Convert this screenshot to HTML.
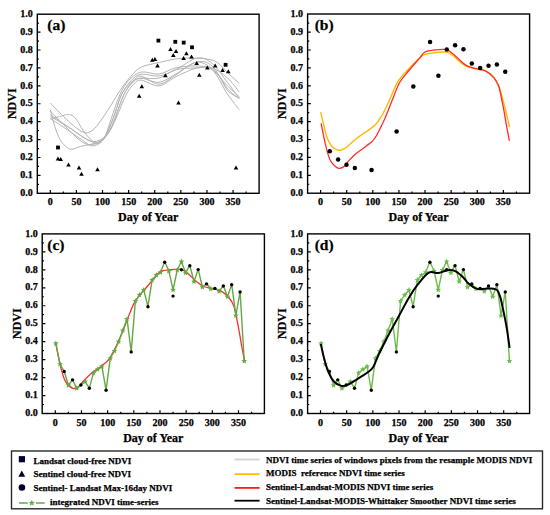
<!DOCTYPE html>
<html><head><meta charset="utf-8"><style>
html,body{margin:0;padding:0;background:#fff;width:550px;height:515px;overflow:hidden}
svg{display:block}
text{font-family:"Liberation Serif",serif;font-weight:bold;fill:#000;stroke:#000;stroke-width:0.25px}
.tk text{font-size:10px}
.ttl{font-size:12px}
.pl{font-size:15.5px}
.lg text{font-size:9px;white-space:pre}
</style></head><body>
<svg width="550" height="515" viewBox="0 0 550 515">
<rect width="550" height="515" fill="#fff"/>
<rect x="37.3" y="14.2" width="221.8" height="179.1" fill="none" stroke="#000" stroke-width="1.4"/>
<path d="M37.3,184.34h1.7 M37.3,175.39h3.2 M37.3,166.44h1.7 M37.3,157.48h3.2 M37.3,148.53h1.7 M37.3,139.57h3.2 M37.3,130.62h1.7 M37.3,121.66h3.2 M37.3,112.71h1.7 M37.3,103.75h3.2 M37.3,94.8h1.7 M37.3,85.84h3.2 M37.3,76.89h1.7 M37.3,67.93h3.2 M37.3,58.98h1.7 M37.3,50.02h3.2 M37.3,41.06h1.7 M37.3,32.11h3.2 M37.3,23.16h1.7 M50.3,193.3v-3.2 M63.35,193.3v-1.7 M76.41,193.3v-3.2 M89.47,193.3v-1.7 M102.52,193.3v-3.2 M115.58,193.3v-1.7 M128.63,193.3v-3.2 M141.69,193.3v-1.7 M154.74,193.3v-3.2 M167.8,193.3v-1.7 M180.85,193.3v-3.2 M193.9,193.3v-1.7 M206.96,193.3v-3.2 M220.01,193.3v-1.7 M233.07,193.3v-3.2 M246.12,193.3v-1.7" stroke="#000" stroke-width="1.2" fill="none"/>
<g class="tk"><text x="32.8" y="196" text-anchor="end">0.0</text><text x="32.8" y="178.09" text-anchor="end">0.1</text><text x="32.8" y="160.18" text-anchor="end">0.2</text><text x="32.8" y="142.27" text-anchor="end">0.3</text><text x="32.8" y="124.36" text-anchor="end">0.4</text><text x="32.8" y="106.45" text-anchor="end">0.5</text><text x="32.8" y="88.54" text-anchor="end">0.6</text><text x="32.8" y="70.63" text-anchor="end">0.7</text><text x="32.8" y="52.72" text-anchor="end">0.8</text><text x="32.8" y="34.81" text-anchor="end">0.9</text><text x="32.8" y="16.9" text-anchor="end">1.0</text><text x="50.3" y="205.4" text-anchor="middle">0</text><text x="76.41" y="205.4" text-anchor="middle">50</text><text x="102.52" y="205.4" text-anchor="middle">100</text><text x="128.63" y="205.4" text-anchor="middle">150</text><text x="154.74" y="205.4" text-anchor="middle">200</text><text x="180.85" y="205.4" text-anchor="middle">250</text><text x="206.96" y="205.4" text-anchor="middle">300</text><text x="233.07" y="205.4" text-anchor="middle">350</text></g>
<text class="ttl" transform="translate(16.1,103.75) rotate(-90)" text-anchor="middle">NDVI</text>
<text class="ttl" x="148.2" y="221.3" text-anchor="middle">Day of Year</text>
<text class="pl" x="47.3" y="29.8">(a)</text>
<path d="M50.3,103.03 C52.48,105.24 59,112.14 63.35,116.29 C67.71,120.44 72.67,125.15 76.41,127.93 C80.15,130.7 82.85,132.79 85.81,132.94 C88.77,133.09 91.38,131.3 94.16,128.82 C96.95,126.35 99.56,122.26 102.52,118.08 C105.48,113.9 109.48,107.6 111.92,103.75 C114.36,99.9 115.14,98.11 117.14,94.97 C119.14,91.84 121.32,88.41 123.93,84.94 C126.54,81.48 129.94,77.18 132.81,74.2 C135.68,71.21 136.81,68.97 141.16,67.03 C145.51,65.09 153.17,63.9 158.92,62.56 C164.66,61.21 170.41,59.72 175.63,58.98 C180.85,58.23 185.03,58.08 190.25,58.08 C195.47,58.08 202.43,58.23 206.96,58.98 C211.49,59.72 214.01,60.32 217.4,62.56 C220.8,64.8 223.67,68.94 227.33,72.41 C230.98,75.87 237.33,81.51 239.34,83.33 M50.3,109.66 C51.17,112.85 53.61,123.39 55.52,128.82 C57.44,134.26 59.26,138.85 61.79,142.26 C64.31,145.66 67.53,148.55 70.67,149.24 C73.8,149.93 77.02,147.24 80.59,146.38 C84.16,145.51 88.42,145.18 92.08,144.05 C95.73,142.91 99.65,141.81 102.52,139.57 C105.39,137.33 107.22,134.17 109.31,130.62 C111.4,127.06 112.65,124.2 115.05,118.26 C117.45,112.32 120.76,101.12 123.72,94.97 C126.68,88.83 129.9,84.5 132.81,81.36 C135.71,78.23 136.81,75.72 141.16,76.17 C145.51,76.62 153.17,84.23 158.92,84.05 C164.66,83.87 169.27,78.77 175.63,75.09 C181.98,71.42 190.25,62.47 197.04,62.02 C203.83,61.57 211.31,67.69 216.36,72.41 C221.41,77.12 223.5,85.99 227.33,90.32 C231.16,94.65 237.33,97.03 239.34,98.38 M50.3,118.97 C51.78,118.59 56.13,117.39 59.18,116.65 C62.22,115.9 65.88,114.26 68.58,114.5 C71.28,114.73 72.93,115.39 75.37,118.08 C77.8,120.76 80.59,127.03 83.2,130.62 C85.81,134.2 88.51,137.48 91.03,139.57 C93.56,141.66 95.99,143.75 98.34,143.15 C100.69,142.56 102.96,140.14 105.13,135.99 C107.31,131.84 108.96,125.09 111.4,118.26 C113.83,111.42 116.88,101.27 119.75,94.97 C122.62,88.68 125.06,84.29 128.63,80.47 C132.2,76.65 136.11,73.12 141.16,72.05 C146.21,70.97 153.17,74.71 158.92,74.02 C164.66,73.33 169.27,69.27 175.63,67.93 C181.98,66.59 190.95,65.66 197.04,65.96 C203.13,66.26 207.13,66.41 212.18,69.72 C217.23,73.03 222.8,81.33 227.33,85.84 C231.85,90.35 237.33,94.94 239.34,96.77 M50.3,110.91 C52.91,113.6 61.18,122.26 65.97,127.03 C70.75,131.81 75.1,136.64 79.02,139.57 C82.94,142.5 85.55,144.58 89.47,144.58 C93.38,144.58 98.56,143.96 102.52,139.57 C106.48,135.18 110.09,125.69 113.23,118.26 C116.36,110.82 118.32,100.97 121.32,94.97 C124.32,88.97 127.93,85.06 131.24,82.26 C134.55,79.45 136.55,78.83 141.16,78.14 C145.78,77.45 153.17,79.54 158.92,78.14 C164.66,76.74 169.27,71.42 175.63,69.72 C181.98,68.02 190.95,68.23 197.04,67.93 C203.13,67.63 207.13,66.29 212.18,67.93 C217.23,69.57 222.8,73.75 227.33,77.78 C231.85,81.81 237.33,89.72 239.34,92.11 M50.3,114.5 C53.35,116.59 62.92,123.15 68.58,127.03 C74.23,130.91 79.28,135.15 84.24,137.78 C89.2,140.41 94.25,143.69 98.34,142.79 C102.43,141.9 105.83,136.5 108.79,132.41 C111.75,128.32 113.23,124.5 116.1,118.26 C118.97,112.02 123.06,100.68 126.02,94.97 C128.98,89.27 131.33,86.53 133.85,84.05 C136.38,81.57 136.99,79.81 141.16,80.11 C145.34,80.41 153.17,86.38 158.92,85.84 C164.66,85.3 169.27,79.87 175.63,76.89 C181.98,73.9 190.95,69.12 197.04,67.93 C203.13,66.74 207.13,65.39 212.18,69.72 C217.23,74.05 222.8,87.24 227.33,93.9 C231.85,100.56 237.33,107.03 239.34,109.66 M50.3,116.29 C53.78,118.38 65.1,124.94 71.19,128.82 C77.28,132.7 82.68,137.48 86.85,139.57 C91.03,141.66 92.77,142.26 96.25,141.36 C99.73,140.47 104.61,138.05 107.74,134.2 C110.88,130.35 112.39,124.79 115.05,118.26 C117.72,111.72 120.76,100.97 123.72,94.97 C126.68,88.97 129.9,85.06 132.81,82.26 C135.71,79.45 136.81,78.14 141.16,78.14 C145.51,78.14 153.17,82.91 158.92,82.26 C164.66,81.6 169.27,77.57 175.63,74.2 C181.98,70.83 190.95,63.36 197.04,62.02 C203.13,60.68 207.13,61.72 212.18,66.14 C217.23,70.56 222.8,83.15 227.33,88.53 C231.85,93.9 237.33,96.74 239.34,98.38 M50.3,118.44 C52.91,120.17 60.74,125.3 65.97,128.82 C71.19,132.35 77.28,136.73 81.63,139.57 C85.98,142.41 88.42,145.84 92.08,145.84 C95.73,145.84 100.04,144.17 103.56,139.57 C107.09,134.97 110.27,125.69 113.23,118.26 C116.18,110.82 118.32,101.27 121.32,94.97 C124.32,88.68 127.93,83.93 131.24,80.47 C134.55,77 136.55,74.94 141.16,74.2 C145.78,73.45 153.17,76.74 158.92,75.99 C164.66,75.24 169.27,72.71 175.63,69.72 C181.98,66.74 190.95,59.12 197.04,58.08 C203.13,57.03 207.13,59.42 212.18,63.45 C217.23,67.48 222.8,76.44 227.33,82.26 C231.85,88.08 237.33,95.69 239.34,98.38" stroke="#b4b4b4" stroke-width="1" fill="none"/>
<rect x="56.1" y="145.6" width="3.8" height="3.8" fill="#000"/><rect x="156.5" y="38.7" width="3.8" height="3.8" fill="#000"/><rect x="173.4" y="39.9" width="3.8" height="3.8" fill="#000"/><rect x="181.8" y="40.7" width="3.8" height="3.8" fill="#000"/><rect x="190.1" y="45.4" width="3.8" height="3.8" fill="#000"/><rect x="223.7" y="62.9" width="3.8" height="3.8" fill="#000"/><path d="M58,156.5L60.3,160.5L55.7,160.5Z" fill="#000"/><path d="M60.7,157L63,161L58.4,161Z" fill="#000"/><path d="M68.5,162.5L70.8,166.5L66.2,166.5Z" fill="#000"/><path d="M79,165.5L81.3,169.5L76.7,169.5Z" fill="#000"/><path d="M81.5,171.7L83.8,175.7L79.2,175.7Z" fill="#000"/><path d="M97.5,167.3L99.8,171.3L95.2,171.3Z" fill="#000"/><path d="M139.2,93.7L141.5,97.7L136.9,97.7Z" fill="#000"/><path d="M141.8,84.2L144.1,88.2L139.5,88.2Z" fill="#000"/><path d="M152.3,57.7L154.6,61.7L150,61.7Z" fill="#000"/><path d="M154.9,57L157.2,61L152.6,61Z" fill="#000"/><path d="M157.5,63.4L159.8,67.4L155.2,67.4Z" fill="#000"/><path d="M165.4,73.3L167.7,77.3L163.1,77.3Z" fill="#000"/><path d="M170.5,47L172.8,51L168.2,51Z" fill="#000"/><path d="M173.3,53L175.6,57L171,57Z" fill="#000"/><path d="M176,49L178.3,53L173.7,53Z" fill="#000"/><path d="M178.5,100.6L180.8,104.6L176.2,104.6Z" fill="#000"/><path d="M183.6,56L185.9,60L181.3,60Z" fill="#000"/><path d="M186.4,51.2L188.7,55.2L184.1,55.2Z" fill="#000"/><path d="M191.5,54.6L193.8,58.6L189.2,58.6Z" fill="#000"/><path d="M196.7,61L199,65L194.4,65Z" fill="#000"/><path d="M199.3,72.8L201.6,76.8L197,76.8Z" fill="#000"/><path d="M207.3,65.5L209.6,69.5L205,69.5Z" fill="#000"/><path d="M215.2,63.6L217.5,67.6L212.9,67.6Z" fill="#000"/><path d="M222.6,68L224.9,72L220.3,72Z" fill="#000"/><path d="M228.3,69.2L230.6,73.2L226,73.2Z" fill="#000"/><path d="M236,165.4L238.3,169.4L233.7,169.4Z" fill="#000"/>
<rect x="307.6" y="14" width="222" height="179.2" fill="none" stroke="#000" stroke-width="1.4"/>
<path d="M307.6,184.25h1.7 M307.6,175.3h3.2 M307.6,166.35h1.7 M307.6,157.4h3.2 M307.6,148.45h1.7 M307.6,139.5h3.2 M307.6,130.55h1.7 M307.6,121.6h3.2 M307.6,112.65h1.7 M307.6,103.7h3.2 M307.6,94.75h1.7 M307.6,85.8h3.2 M307.6,76.85h1.7 M307.6,67.9h3.2 M307.6,58.95h1.7 M307.6,50h3.2 M307.6,41.05h1.7 M307.6,32.1h3.2 M307.6,23.15h1.7 M320.6,193.2v-3.2 M333.66,193.2v-1.7 M346.71,193.2v-3.2 M359.77,193.2v-1.7 M372.82,193.2v-3.2 M385.88,193.2v-1.7 M398.93,193.2v-3.2 M411.99,193.2v-1.7 M425.04,193.2v-3.2 M438.1,193.2v-1.7 M451.15,193.2v-3.2 M464.21,193.2v-1.7 M477.26,193.2v-3.2 M490.32,193.2v-1.7 M503.37,193.2v-3.2 M516.42,193.2v-1.7" stroke="#000" stroke-width="1.2" fill="none"/>
<g class="tk"><text x="303.1" y="195.9" text-anchor="end">0.0</text><text x="303.1" y="178" text-anchor="end">0.1</text><text x="303.1" y="160.1" text-anchor="end">0.2</text><text x="303.1" y="142.2" text-anchor="end">0.3</text><text x="303.1" y="124.3" text-anchor="end">0.4</text><text x="303.1" y="106.4" text-anchor="end">0.5</text><text x="303.1" y="88.5" text-anchor="end">0.6</text><text x="303.1" y="70.6" text-anchor="end">0.7</text><text x="303.1" y="52.7" text-anchor="end">0.8</text><text x="303.1" y="34.8" text-anchor="end">0.9</text><text x="303.1" y="16.9" text-anchor="end">1.0</text><text x="320.6" y="205.3" text-anchor="middle">0</text><text x="346.71" y="205.3" text-anchor="middle">50</text><text x="372.82" y="205.3" text-anchor="middle">100</text><text x="398.93" y="205.3" text-anchor="middle">150</text><text x="425.04" y="205.3" text-anchor="middle">200</text><text x="451.15" y="205.3" text-anchor="middle">250</text><text x="477.26" y="205.3" text-anchor="middle">300</text><text x="503.37" y="205.3" text-anchor="middle">350</text></g>
<text class="ttl" transform="translate(286.4,103.6) rotate(-90)" text-anchor="middle">NDVI</text>
<text class="ttl" x="418.6" y="221.2" text-anchor="middle">Day of Year</text>
<text class="pl" x="314.7" y="29.6">(b)</text>
<path d="M320.7,112.11 C321.12,113.87 322.23,118.65 323.21,122.67 C324.19,126.7 325.26,132.43 326.61,136.28 C327.95,140.13 329.39,143.44 331.31,145.76 C333.22,148.09 335.83,149.79 338.09,150.24 C340.36,150.69 341.93,150.33 344.88,148.45 C347.83,146.57 352.18,141.8 355.8,138.96 C359.42,136.13 363.44,133.71 366.61,131.44 C369.77,129.18 372.38,127.78 374.8,125.36 C377.22,122.94 378.84,120.79 381.12,116.95 C383.4,113.1 385.73,108.12 388.49,102.27 C391.24,96.42 394.6,87.11 397.68,81.86 C400.75,76.61 403.23,74.76 406.92,70.76 C410.61,66.77 416.81,60.62 419.82,57.88 C422.83,55.13 422.49,55.16 424.99,54.3 C427.49,53.43 431.25,53.04 434.81,52.68 C438.36,52.33 443.29,51.67 446.29,52.15 C449.3,52.63 450.37,53.76 452.82,55.55 C455.28,57.34 458.56,61.01 461.02,62.89 C463.48,64.77 464.87,65.75 467.6,66.83 C470.33,67.9 474.41,68.59 477.42,69.33 C480.42,70.08 482.9,69.99 485.62,71.3 C488.33,72.61 491.26,73.99 493.71,77.21 C496.15,80.43 498.39,85.41 500.29,90.63 C502.19,95.85 503.56,102.51 505.09,108.53 C506.63,114.56 508.75,123.75 509.48,126.79" stroke="#ffb900" stroke-width="1.4" fill="none"/>
<path d="M321.12,123.39 C321.82,126.82 324.08,138.6 325.3,143.97 C326.52,149.34 327.43,152.6 328.43,155.61 C329.43,158.62 329.69,159.97 331.31,162.05 C332.92,164.14 336.06,167.33 338.09,168.14 C340.13,168.95 341.94,167.9 343.52,166.89 C345.11,165.87 345.55,164.23 347.6,162.05 C349.64,159.88 352.63,156.53 355.8,153.82 C358.96,151.11 363.44,148.36 366.61,145.76 C369.77,143.17 371.78,142.75 374.8,138.25 C377.83,133.74 381.9,125.03 384.78,118.74 C387.66,112.44 389.63,106.47 392.09,100.48 C394.54,94.48 396.74,87.71 399.5,82.76 C402.27,77.8 405.31,74.91 408.7,70.76 C412.08,66.62 417.1,61.01 419.82,57.88 C422.53,54.74 422.49,53.28 424.99,51.97 C427.49,50.66 431.25,50.39 434.81,50 C438.36,49.61 443.29,49.02 446.29,49.64 C449.3,50.27 450.37,51.82 452.82,53.76 C455.28,55.7 458.56,59.22 461.02,61.28 C463.48,63.34 464.87,64.83 467.6,66.11 C470.33,67.39 474.41,68.17 477.42,68.97 C480.42,69.78 482.9,69.51 485.62,70.94 C488.33,72.37 491.54,75.09 493.71,77.57 C495.88,80.04 497.44,82.94 498.62,85.8 C499.79,88.66 499.88,90.66 500.76,94.75 C501.64,98.84 502.95,105.25 503.89,110.32 C504.83,115.39 505.48,120.08 506.4,125.18 C507.32,130.28 508.92,138.31 509.43,140.93" stroke="#ff2b2b" stroke-width="1.3" fill="none"/>
<circle cx="329.78" cy="151.13" r="2.25" fill="#000"/><circle cx="338.13" cy="159.55" r="2.25" fill="#000"/><circle cx="346.49" cy="164.74" r="2.25" fill="#000"/><circle cx="354.84" cy="167.96" r="2.25" fill="#000"/><circle cx="371.55" cy="169.93" r="2.25" fill="#000"/><circle cx="396.62" cy="131.62" r="2.25" fill="#000"/><circle cx="413.33" cy="86.52" r="2.25" fill="#000"/><circle cx="430.04" cy="41.94" r="2.25" fill="#000"/><circle cx="438.4" cy="75.78" r="2.25" fill="#000"/><circle cx="446.75" cy="49.46" r="2.25" fill="#000"/><circle cx="455.11" cy="45.35" r="2.25" fill="#000"/><circle cx="463.46" cy="49.28" r="2.25" fill="#000"/><circle cx="471.82" cy="63.6" r="2.25" fill="#000"/><circle cx="480.17" cy="68.08" r="2.25" fill="#000"/><circle cx="488.53" cy="65.75" r="2.25" fill="#000"/><circle cx="496.88" cy="64.5" r="2.25" fill="#000"/><circle cx="505.24" cy="71.66" r="2.25" fill="#000"/>
<rect x="42.2" y="233.9" width="222.2" height="179.6" fill="none" stroke="#000" stroke-width="1.4"/>
<path d="M42.2,404.52h1.7 M42.2,395.54h3.2 M42.2,386.56h1.7 M42.2,377.58h3.2 M42.2,368.6h1.7 M42.2,359.62h3.2 M42.2,350.64h1.7 M42.2,341.66h3.2 M42.2,332.68h1.7 M42.2,323.7h3.2 M42.2,314.72h1.7 M42.2,305.74h3.2 M42.2,296.76h1.7 M42.2,287.78h3.2 M42.2,278.8h1.7 M42.2,269.82h3.2 M42.2,260.84h1.7 M42.2,251.86h3.2 M42.2,242.88h1.7 M55.3,413.5v-3.2 M68.38,413.5v-1.7 M81.47,413.5v-3.2 M94.55,413.5v-1.7 M107.64,413.5v-3.2 M120.72,413.5v-1.7 M133.81,413.5v-3.2 M146.89,413.5v-1.7 M159.98,413.5v-3.2 M173.06,413.5v-1.7 M186.15,413.5v-3.2 M199.24,413.5v-1.7 M212.32,413.5v-3.2 M225.4,413.5v-1.7 M238.49,413.5v-3.2 M251.57,413.5v-1.7" stroke="#000" stroke-width="1.2" fill="none"/>
<g class="tk"><text x="37.7" y="416.2" text-anchor="end">0.0</text><text x="37.7" y="398.24" text-anchor="end">0.1</text><text x="37.7" y="380.28" text-anchor="end">0.2</text><text x="37.7" y="362.32" text-anchor="end">0.3</text><text x="37.7" y="344.36" text-anchor="end">0.4</text><text x="37.7" y="326.4" text-anchor="end">0.5</text><text x="37.7" y="308.44" text-anchor="end">0.6</text><text x="37.7" y="290.48" text-anchor="end">0.7</text><text x="37.7" y="272.52" text-anchor="end">0.8</text><text x="37.7" y="254.56" text-anchor="end">0.9</text><text x="37.7" y="236.6" text-anchor="end">1.0</text><text x="55.3" y="425.6" text-anchor="middle">0</text><text x="81.47" y="425.6" text-anchor="middle">50</text><text x="107.64" y="425.6" text-anchor="middle">100</text><text x="133.81" y="425.6" text-anchor="middle">150</text><text x="159.98" y="425.6" text-anchor="middle">200</text><text x="186.15" y="425.6" text-anchor="middle">250</text><text x="212.32" y="425.6" text-anchor="middle">300</text><text x="238.49" y="425.6" text-anchor="middle">350</text></g>
<text class="ttl" transform="translate(21,323.7) rotate(-90)" text-anchor="middle">NDVI</text>
<text class="ttl" x="153.3" y="441.5" text-anchor="middle">Day of Year</text>
<text class="pl" x="47.3" y="249.5">(c)</text>
<path d="M55.82,343.46 C56.52,346.9 58.79,358.72 60.01,364.11 C61.23,369.5 62.15,372.76 63.15,375.78 C64.15,378.81 64.42,380.15 66.03,382.25 C67.64,384.34 70.79,387.55 72.83,388.36 C74.88,389.16 76.69,388.12 78.28,387.1 C79.86,386.08 80.31,384.43 82.36,382.25 C84.41,380.06 87.4,376.71 90.58,373.99 C93.75,371.26 98.24,368.51 101.41,365.91 C104.59,363.3 106.59,362.88 109.63,358.36 C112.66,353.84 116.74,345.1 119.63,338.79 C122.51,332.47 124.49,326.48 126.95,320.47 C129.41,314.45 131.61,307.66 134.39,302.69 C137.16,297.72 140.2,294.81 143.6,290.65 C146.99,286.49 152.02,280.87 154.75,277.72 C157.47,274.58 157.42,273.11 159.93,271.8 C162.43,270.48 166.21,270.21 169.77,269.82 C173.33,269.43 178.27,268.83 181.28,269.46 C184.29,270.09 185.36,271.65 187.82,273.59 C190.28,275.54 193.57,279.07 196.04,281.13 C198.51,283.2 199.9,284.7 202.64,285.98 C205.38,287.27 209.47,288.05 212.48,288.86 C215.49,289.67 217.97,289.4 220.69,290.83 C223.42,292.27 226.63,294.99 228.81,297.48 C230.98,299.96 232.55,302.87 233.73,305.74 C234.9,308.61 234.99,310.62 235.87,314.72 C236.75,318.82 238.07,325.26 239.01,330.35 C239.96,335.43 240.6,340.13 241.53,345.25 C242.45,350.37 244.06,358.42 244.56,361.06" stroke="#ff2b2b" stroke-width="1.3" fill="none"/>
<polyline points="55.82,343.46 60.01,364.11 64.2,371.29 68.38,385.3 72.57,379.74 76.76,388.36 80.95,384.94 85.13,381.53 89.32,388.18 93.51,372.91 97.7,369.32 101.88,366.44 106.07,390.15 110.26,358.36 114.44,351 118.63,341.66 122.82,330.52 127.01,319.03 131.19,351.72 135.38,301.07 139.57,294.96 143.75,290.11 147.94,306.46 152.13,280.06 156.32,275.21 160.5,272.33 164.69,261.74 168.88,271.08 173.06,289.94 177.25,270 181.44,261.56 185.63,272.87 189.81,265.15 194,281.67 198.19,269.1 202.38,287.24 206.56,283.47 210.75,288.86 214.94,287.96 219.12,291.37 223.31,285.62 227.5,296.76 231.69,284.37 235.87,315.62 240.06,291.55 244.25,361.06" stroke="#62a843" stroke-width="1.4" fill="none" stroke-linejoin="round"/>
<path d="M55.82,340.46 L56.62,342.36 L58.68,342.53 L57.11,343.87 L57.59,345.88 L55.82,344.81 L54.06,345.88 L54.54,343.87 L52.97,342.53 L55.03,342.36Z" fill="#62a843"/><path d="M60.01,361.11 L60.8,363.02 L62.86,363.18 L61.29,364.53 L61.77,366.54 L60.01,365.46 L58.25,366.54 L58.73,364.53 L57.16,363.18 L59.22,363.02Z" fill="#62a843"/><path d="M68.38,382.3 L69.18,384.21 L71.24,384.38 L69.67,385.72 L70.15,387.73 L68.38,386.65 L66.62,387.73 L67.1,385.72 L65.53,384.38 L67.59,384.21Z" fill="#62a843"/><path d="M76.76,385.36 L77.55,387.26 L79.61,387.43 L78.04,388.77 L78.52,390.78 L76.76,389.71 L75,390.78 L75.48,388.77 L73.91,387.43 L75.97,387.26Z" fill="#62a843"/><path d="M85.13,378.53 L85.93,380.44 L87.99,380.6 L86.42,381.95 L86.9,383.96 L85.13,382.88 L83.37,383.96 L83.85,381.95 L82.28,380.6 L84.34,380.44Z" fill="#62a843"/><path d="M93.51,369.91 L94.3,371.82 L96.36,371.98 L94.79,373.33 L95.27,375.34 L93.51,374.26 L91.74,375.34 L92.22,373.33 L90.66,371.98 L92.71,371.82Z" fill="#62a843"/><path d="M97.7,366.32 L98.49,368.23 L100.55,368.39 L98.98,369.74 L99.46,371.75 L97.7,370.67 L95.93,371.75 L96.41,369.74 L94.84,368.39 L96.9,368.23Z" fill="#62a843"/><path d="M101.88,363.44 L102.68,365.35 L104.74,365.52 L103.17,366.86 L103.65,368.87 L101.88,367.79 L100.12,368.87 L100.6,366.86 L99.03,365.52 L101.09,365.35Z" fill="#62a843"/><path d="M110.26,355.36 L111.05,357.27 L113.11,357.44 L111.54,358.78 L112.02,360.79 L110.26,359.71 L108.49,360.79 L108.97,358.78 L107.4,357.44 L109.46,357.27Z" fill="#62a843"/><path d="M114.44,348 L115.24,349.91 L117.3,350.07 L115.73,351.42 L116.21,353.43 L114.44,352.35 L112.68,353.43 L113.16,351.42 L111.59,350.07 L113.65,349.91Z" fill="#62a843"/><path d="M118.63,338.66 L119.42,340.57 L121.48,340.73 L119.92,342.08 L120.39,344.09 L118.63,343.01 L116.87,344.09 L117.35,342.08 L115.78,340.73 L117.84,340.57Z" fill="#62a843"/><path d="M122.82,327.52 L123.61,329.43 L125.67,329.6 L124.1,330.94 L124.58,332.95 L122.82,331.87 L121.06,332.95 L121.53,330.94 L119.97,329.6 L122.03,329.43Z" fill="#62a843"/><path d="M127.01,316.03 L127.8,317.94 L129.86,318.1 L128.29,319.45 L128.77,321.46 L127.01,320.38 L125.24,321.46 L125.72,319.45 L124.15,318.1 L126.21,317.94Z" fill="#62a843"/><path d="M135.38,298.07 L136.17,299.98 L138.23,300.14 L136.66,301.49 L137.14,303.5 L135.38,302.42 L133.62,303.5 L134.1,301.49 L132.53,300.14 L134.59,299.98Z" fill="#62a843"/><path d="M139.57,291.96 L140.36,293.87 L142.42,294.04 L140.85,295.38 L141.33,297.39 L139.57,296.31 L137.8,297.39 L138.28,295.38 L136.71,294.04 L138.77,293.87Z" fill="#62a843"/><path d="M143.75,287.11 L144.55,289.02 L146.61,289.19 L145.04,290.53 L145.52,292.54 L143.75,291.46 L141.99,292.54 L142.47,290.53 L140.9,289.19 L142.96,289.02Z" fill="#62a843"/><path d="M152.13,277.06 L152.92,278.97 L154.98,279.13 L153.41,280.47 L153.89,282.48 L152.13,281.41 L150.37,282.48 L150.85,280.47 L149.28,279.13 L151.34,278.97Z" fill="#62a843"/><path d="M156.32,272.21 L157.11,274.12 L159.17,274.28 L157.6,275.63 L158.08,277.64 L156.32,276.56 L154.55,277.64 L155.03,275.63 L153.46,274.28 L155.52,274.12Z" fill="#62a843"/><path d="M160.5,269.33 L161.3,271.24 L163.36,271.41 L161.79,272.75 L162.27,274.76 L160.5,273.68 L158.74,274.76 L159.22,272.75 L157.65,271.41 L159.71,271.24Z" fill="#62a843"/><path d="M168.88,268.08 L169.67,269.99 L171.73,270.15 L170.16,271.49 L170.64,273.5 L168.88,272.43 L167.11,273.5 L167.59,271.49 L166.02,270.15 L168.08,269.99Z" fill="#62a843"/><path d="M173.06,286.94 L173.86,288.84 L175.92,289.01 L174.35,290.35 L174.83,292.36 L173.06,291.29 L171.3,292.36 L171.78,290.35 L170.21,289.01 L172.27,288.84Z" fill="#62a843"/><path d="M177.25,267 L178.05,268.91 L180.11,269.07 L178.54,270.42 L179.02,272.43 L177.25,271.35 L175.49,272.43 L175.97,270.42 L174.4,269.07 L176.46,268.91Z" fill="#62a843"/><path d="M181.44,258.56 L182.23,260.47 L184.29,260.63 L182.72,261.98 L183.2,263.99 L181.44,262.91 L179.68,263.99 L180.16,261.98 L178.59,260.63 L180.65,260.47Z" fill="#62a843"/><path d="M185.63,269.87 L186.42,271.78 L188.48,271.95 L186.91,273.29 L187.39,275.3 L185.63,274.22 L183.86,275.3 L184.34,273.29 L182.77,271.95 L184.83,271.78Z" fill="#62a843"/><path d="M194,278.67 L194.79,280.58 L196.85,280.75 L195.28,282.09 L195.76,284.1 L194,283.02 L192.24,284.1 L192.72,282.09 L191.15,280.75 L193.21,280.58Z" fill="#62a843"/><path d="M202.38,284.24 L203.17,286.15 L205.23,286.31 L203.66,287.66 L204.14,289.67 L202.38,288.59 L200.61,289.67 L201.09,287.66 L199.52,286.31 L201.58,286.15Z" fill="#62a843"/><path d="M210.75,285.86 L211.54,287.77 L213.6,287.93 L212.03,289.27 L212.51,291.28 L210.75,290.21 L208.99,291.28 L209.47,289.27 L207.9,287.93 L209.96,287.77Z" fill="#62a843"/><path d="M219.12,288.37 L219.92,290.28 L221.98,290.44 L220.41,291.79 L220.89,293.8 L219.12,292.72 L217.36,293.8 L217.84,291.79 L216.27,290.44 L218.33,290.28Z" fill="#62a843"/><path d="M227.5,293.76 L228.29,295.67 L230.35,295.83 L228.78,297.18 L229.26,299.19 L227.5,298.11 L225.74,299.19 L226.21,297.18 L224.65,295.83 L226.71,295.67Z" fill="#62a843"/><path d="M235.87,312.62 L236.67,314.53 L238.73,314.69 L237.16,316.04 L237.64,318.05 L235.87,316.97 L234.11,318.05 L234.59,316.04 L233.02,314.69 L235.08,314.53Z" fill="#62a843"/><path d="M244.25,358.06 L245.04,359.96 L247.1,360.13 L245.53,361.47 L246.01,363.48 L244.25,362.41 L242.48,363.48 L242.96,361.47 L241.39,360.13 L243.45,359.96Z" fill="#62a843"/>
<circle cx="64.2" cy="371.44" r="1.7" fill="#000"/><circle cx="72.57" cy="379.85" r="1.7" fill="#000"/><circle cx="80.95" cy="385.04" r="1.7" fill="#000"/><circle cx="89.32" cy="388.26" r="1.7" fill="#000"/><circle cx="106.07" cy="390.23" r="1.7" fill="#000"/><circle cx="131.19" cy="351.92" r="1.7" fill="#000"/><circle cx="147.94" cy="306.82" r="1.7" fill="#000"/><circle cx="164.69" cy="262.25" r="1.7" fill="#000"/><circle cx="173.06" cy="296.08" r="1.7" fill="#000"/><circle cx="181.44" cy="269.76" r="1.7" fill="#000"/><circle cx="189.81" cy="265.65" r="1.7" fill="#000"/><circle cx="198.19" cy="269.58" r="1.7" fill="#000"/><circle cx="206.56" cy="283.9" r="1.7" fill="#000"/><circle cx="214.94" cy="288.38" r="1.7" fill="#000"/><circle cx="223.31" cy="286.05" r="1.7" fill="#000"/><circle cx="231.69" cy="284.8" r="1.7" fill="#000"/><circle cx="240.06" cy="291.96" r="1.7" fill="#000"/>
<rect x="307.6" y="233.9" width="222" height="179.6" fill="none" stroke="#000" stroke-width="1.4"/>
<path d="M307.6,404.52h1.7 M307.6,395.54h3.2 M307.6,386.56h1.7 M307.6,377.58h3.2 M307.6,368.6h1.7 M307.6,359.62h3.2 M307.6,350.64h1.7 M307.6,341.66h3.2 M307.6,332.68h1.7 M307.6,323.7h3.2 M307.6,314.72h1.7 M307.6,305.74h3.2 M307.6,296.76h1.7 M307.6,287.78h3.2 M307.6,278.8h1.7 M307.6,269.82h3.2 M307.6,260.84h1.7 M307.6,251.86h3.2 M307.6,242.88h1.7 M320.5,413.5v-3.2 M333.58,413.5v-1.7 M346.67,413.5v-3.2 M359.75,413.5v-1.7 M372.84,413.5v-3.2 M385.93,413.5v-1.7 M399.01,413.5v-3.2 M412.1,413.5v-1.7 M425.18,413.5v-3.2 M438.26,413.5v-1.7 M451.35,413.5v-3.2 M464.44,413.5v-1.7 M477.52,413.5v-3.2 M490.61,413.5v-1.7 M503.69,413.5v-3.2 M516.77,413.5v-1.7" stroke="#000" stroke-width="1.2" fill="none"/>
<g class="tk"><text x="303.1" y="416.2" text-anchor="end">0.0</text><text x="303.1" y="398.24" text-anchor="end">0.1</text><text x="303.1" y="380.28" text-anchor="end">0.2</text><text x="303.1" y="362.32" text-anchor="end">0.3</text><text x="303.1" y="344.36" text-anchor="end">0.4</text><text x="303.1" y="326.4" text-anchor="end">0.5</text><text x="303.1" y="308.44" text-anchor="end">0.6</text><text x="303.1" y="290.48" text-anchor="end">0.7</text><text x="303.1" y="272.52" text-anchor="end">0.8</text><text x="303.1" y="254.56" text-anchor="end">0.9</text><text x="303.1" y="236.6" text-anchor="end">1.0</text><text x="320.5" y="425.6" text-anchor="middle">0</text><text x="346.67" y="425.6" text-anchor="middle">50</text><text x="372.84" y="425.6" text-anchor="middle">100</text><text x="399.01" y="425.6" text-anchor="middle">150</text><text x="425.18" y="425.6" text-anchor="middle">200</text><text x="451.35" y="425.6" text-anchor="middle">250</text><text x="477.52" y="425.6" text-anchor="middle">300</text><text x="503.69" y="425.6" text-anchor="middle">350</text></g>
<text class="ttl" transform="translate(286.4,323.7) rotate(-90)" text-anchor="middle">NDVI</text>
<text class="ttl" x="418.6" y="441.5" text-anchor="middle">Day of Year</text>
<text class="pl" x="314.7" y="249.5">(d)</text>
<polyline points="321.02,343.46 325.21,364.11 329.4,371.29 333.58,385.3 337.77,379.74 341.96,388.36 346.15,384.94 350.33,381.53 354.52,388.18 358.71,372.91 362.9,369.32 367.08,366.44 371.27,390.15 375.46,358.36 379.64,351 383.83,341.66 388.02,330.52 392.21,319.03 396.39,351.72 400.58,301.07 404.77,294.96 408.95,290.11 413.14,306.46 417.33,280.06 421.52,275.21 425.7,272.33 429.89,261.74 434.08,271.08 438.26,289.94 442.45,270 446.64,261.56 450.83,272.87 455.01,265.15 459.2,281.67 463.39,269.1 467.58,287.24 471.76,283.47 475.95,288.86 480.14,287.96 484.32,291.37 488.51,285.62 492.7,296.76 496.89,284.37 501.07,315.62 505.26,291.55 509.45,361.06" stroke="#6dbb4b" stroke-width="1.4" fill="none" stroke-linejoin="round"/>
<path d="M321.02,340.46 L321.82,342.36 L323.88,342.53 L322.31,343.87 L322.79,345.88 L321.02,344.81 L319.26,345.88 L319.74,343.87 L318.17,342.53 L320.23,342.36Z" fill="#6dbb4b"/><path d="M325.21,361.11 L326,363.02 L328.06,363.18 L326.49,364.53 L326.97,366.54 L325.21,365.46 L323.45,366.54 L323.93,364.53 L322.36,363.18 L324.42,363.02Z" fill="#6dbb4b"/><path d="M333.58,382.3 L334.38,384.21 L336.44,384.38 L334.87,385.72 L335.35,387.73 L333.58,386.65 L331.82,387.73 L332.3,385.72 L330.73,384.38 L332.79,384.21Z" fill="#6dbb4b"/><path d="M341.96,385.36 L342.75,387.26 L344.81,387.43 L343.24,388.77 L343.72,390.78 L341.96,389.71 L340.2,390.78 L340.68,388.77 L339.11,387.43 L341.17,387.26Z" fill="#6dbb4b"/><path d="M350.33,378.53 L351.13,380.44 L353.19,380.6 L351.62,381.95 L352.1,383.96 L350.33,382.88 L348.57,383.96 L349.05,381.95 L347.48,380.6 L349.54,380.44Z" fill="#6dbb4b"/><path d="M358.71,369.91 L359.5,371.82 L361.56,371.98 L359.99,373.33 L360.47,375.34 L358.71,374.26 L356.94,375.34 L357.42,373.33 L355.86,371.98 L357.91,371.82Z" fill="#6dbb4b"/><path d="M362.9,366.32 L363.69,368.23 L365.75,368.39 L364.18,369.74 L364.66,371.75 L362.9,370.67 L361.13,371.75 L361.61,369.74 L360.04,368.39 L362.1,368.23Z" fill="#6dbb4b"/><path d="M367.08,363.44 L367.88,365.35 L369.94,365.52 L368.37,366.86 L368.85,368.87 L367.08,367.79 L365.32,368.87 L365.8,366.86 L364.23,365.52 L366.29,365.35Z" fill="#6dbb4b"/><path d="M375.46,355.36 L376.25,357.27 L378.31,357.44 L376.74,358.78 L377.22,360.79 L375.46,359.71 L373.69,360.79 L374.17,358.78 L372.6,357.44 L374.66,357.27Z" fill="#6dbb4b"/><path d="M379.64,348 L380.44,349.91 L382.5,350.07 L380.93,351.42 L381.41,353.43 L379.64,352.35 L377.88,353.43 L378.36,351.42 L376.79,350.07 L378.85,349.91Z" fill="#6dbb4b"/><path d="M383.83,338.66 L384.62,340.57 L386.68,340.73 L385.12,342.08 L385.59,344.09 L383.83,343.01 L382.07,344.09 L382.55,342.08 L380.98,340.73 L383.04,340.57Z" fill="#6dbb4b"/><path d="M388.02,327.52 L388.81,329.43 L390.87,329.6 L389.3,330.94 L389.78,332.95 L388.02,331.87 L386.26,332.95 L386.73,330.94 L385.17,329.6 L387.23,329.43Z" fill="#6dbb4b"/><path d="M392.21,316.03 L393,317.94 L395.06,318.1 L393.49,319.45 L393.97,321.46 L392.21,320.38 L390.44,321.46 L390.92,319.45 L389.35,318.1 L391.41,317.94Z" fill="#6dbb4b"/><path d="M400.58,298.07 L401.37,299.98 L403.43,300.14 L401.86,301.49 L402.34,303.5 L400.58,302.42 L398.82,303.5 L399.3,301.49 L397.73,300.14 L399.79,299.98Z" fill="#6dbb4b"/><path d="M404.77,291.96 L405.56,293.87 L407.62,294.04 L406.05,295.38 L406.53,297.39 L404.77,296.31 L403,297.39 L403.48,295.38 L401.91,294.04 L403.97,293.87Z" fill="#6dbb4b"/><path d="M408.95,287.11 L409.75,289.02 L411.81,289.19 L410.24,290.53 L410.72,292.54 L408.95,291.46 L407.19,292.54 L407.67,290.53 L406.1,289.19 L408.16,289.02Z" fill="#6dbb4b"/><path d="M417.33,277.06 L418.12,278.97 L420.18,279.13 L418.61,280.47 L419.09,282.48 L417.33,281.41 L415.57,282.48 L416.05,280.47 L414.48,279.13 L416.54,278.97Z" fill="#6dbb4b"/><path d="M421.52,272.21 L422.31,274.12 L424.37,274.28 L422.8,275.63 L423.28,277.64 L421.52,276.56 L419.75,277.64 L420.23,275.63 L418.66,274.28 L420.72,274.12Z" fill="#6dbb4b"/><path d="M425.7,269.33 L426.5,271.24 L428.56,271.41 L426.99,272.75 L427.47,274.76 L425.7,273.68 L423.94,274.76 L424.42,272.75 L422.85,271.41 L424.91,271.24Z" fill="#6dbb4b"/><path d="M434.08,268.08 L434.87,269.99 L436.93,270.15 L435.36,271.49 L435.84,273.5 L434.08,272.43 L432.31,273.5 L432.79,271.49 L431.22,270.15 L433.28,269.99Z" fill="#6dbb4b"/><path d="M438.26,286.94 L439.06,288.84 L441.12,289.01 L439.55,290.35 L440.03,292.36 L438.26,291.29 L436.5,292.36 L436.98,290.35 L435.41,289.01 L437.47,288.84Z" fill="#6dbb4b"/><path d="M442.45,267 L443.25,268.91 L445.31,269.07 L443.74,270.42 L444.22,272.43 L442.45,271.35 L440.69,272.43 L441.17,270.42 L439.6,269.07 L441.66,268.91Z" fill="#6dbb4b"/><path d="M446.64,258.56 L447.43,260.47 L449.49,260.63 L447.92,261.98 L448.4,263.99 L446.64,262.91 L444.88,263.99 L445.36,261.98 L443.79,260.63 L445.85,260.47Z" fill="#6dbb4b"/><path d="M450.83,269.87 L451.62,271.78 L453.68,271.95 L452.11,273.29 L452.59,275.3 L450.83,274.22 L449.06,275.3 L449.54,273.29 L447.97,271.95 L450.03,271.78Z" fill="#6dbb4b"/><path d="M459.2,278.67 L459.99,280.58 L462.05,280.75 L460.48,282.09 L460.96,284.1 L459.2,283.02 L457.44,284.1 L457.92,282.09 L456.35,280.75 L458.41,280.58Z" fill="#6dbb4b"/><path d="M467.58,284.24 L468.37,286.15 L470.43,286.31 L468.86,287.66 L469.34,289.67 L467.58,288.59 L465.81,289.67 L466.29,287.66 L464.72,286.31 L466.78,286.15Z" fill="#6dbb4b"/><path d="M475.95,285.86 L476.74,287.77 L478.8,287.93 L477.23,289.27 L477.71,291.28 L475.95,290.21 L474.19,291.28 L474.67,289.27 L473.1,287.93 L475.16,287.77Z" fill="#6dbb4b"/><path d="M484.32,288.37 L485.12,290.28 L487.18,290.44 L485.61,291.79 L486.09,293.8 L484.32,292.72 L482.56,293.8 L483.04,291.79 L481.47,290.44 L483.53,290.28Z" fill="#6dbb4b"/><path d="M492.7,293.76 L493.49,295.67 L495.55,295.83 L493.98,297.18 L494.46,299.19 L492.7,298.11 L490.94,299.19 L491.41,297.18 L489.85,295.83 L491.91,295.67Z" fill="#6dbb4b"/><path d="M501.07,312.62 L501.87,314.53 L503.93,314.69 L502.36,316.04 L502.84,318.05 L501.07,316.97 L499.31,318.05 L499.79,316.04 L498.22,314.69 L500.28,314.53Z" fill="#6dbb4b"/><path d="M509.45,358.06 L510.24,359.96 L512.3,360.13 L510.73,361.47 L511.21,363.48 L509.45,362.41 L507.68,363.48 L508.16,361.47 L506.59,360.13 L508.65,359.96Z" fill="#6dbb4b"/>
<circle cx="329.4" cy="371.44" r="1.7" fill="#000"/><circle cx="337.77" cy="379.85" r="1.7" fill="#000"/><circle cx="346.15" cy="385.04" r="1.7" fill="#000"/><circle cx="354.52" cy="388.26" r="1.7" fill="#000"/><circle cx="371.27" cy="390.23" r="1.7" fill="#000"/><circle cx="396.39" cy="351.92" r="1.7" fill="#000"/><circle cx="413.14" cy="306.82" r="1.7" fill="#000"/><circle cx="429.89" cy="262.25" r="1.7" fill="#000"/><circle cx="438.26" cy="296.08" r="1.7" fill="#000"/><circle cx="446.64" cy="269.76" r="1.7" fill="#000"/><circle cx="455.01" cy="265.65" r="1.7" fill="#000"/><circle cx="463.39" cy="269.58" r="1.7" fill="#000"/><circle cx="471.76" cy="283.9" r="1.7" fill="#000"/><circle cx="480.14" cy="288.38" r="1.7" fill="#000"/><circle cx="488.51" cy="286.05" r="1.7" fill="#000"/><circle cx="496.89" cy="284.8" r="1.7" fill="#000"/><circle cx="505.26" cy="291.96" r="1.7" fill="#000"/>
<path d="M320.81,343.99 C321.29,346.12 322.48,352.17 323.69,356.75 C324.91,361.33 326.39,367.34 328.09,371.47 C329.79,375.6 331.72,379.14 333.9,381.53 C336.08,383.93 338.99,385.24 341.17,385.84 C343.36,386.44 344.56,386.08 346.98,385.12 C349.41,384.17 352.32,382.19 355.72,380.09 C359.13,378 364.48,374.74 367.4,372.55 C370.31,370.37 371.27,370.1 373.21,366.98 C375.14,363.87 376.6,358.96 379.02,353.87 C381.43,348.78 385.61,340.55 387.7,336.45 C389.8,332.35 389.64,332.8 391.58,329.27 C393.51,325.74 396.49,320.44 399.32,315.26 C402.16,310.08 405.47,303.38 408.59,298.2 C411.7,293.02 414.64,288.47 418.01,284.19 C421.38,279.91 425.42,274.37 428.79,272.51 C432.16,270.66 435.1,273.44 438.21,273.05 C441.33,272.66 444.64,270.51 447.48,270.18 C450.31,269.85 452.63,269.91 455.22,271.08 C457.81,272.24 460.81,275.12 463.02,277.18 C465.24,279.25 466.17,281.52 468.52,283.47 C470.86,285.42 474.29,287.99 477.1,288.86 C479.91,289.73 482.68,288.71 485.37,288.68 C488.06,288.65 491.22,288.38 493.22,288.68 C495.23,288.98 496.23,289.07 497.41,290.47 C498.59,291.88 499.26,293.56 500.29,297.12 C501.32,300.68 502.49,306.61 503.59,311.85 C504.68,317.08 505.83,322.53 506.83,328.55 C507.83,334.57 509.14,344.71 509.6,347.95" stroke="#000" stroke-width="2" fill="none"/>
<rect x="11.5" y="451" width="531" height="57.8" fill="none" stroke="#2a2a2a" stroke-width="1.4"/>
<rect x="18.8" y="456.1" width="6.2" height="6.2" fill="#000030"/>
<path d="M21.8,470.4L25.2,476.8L18.4,476.8Z" fill="#000030"/>
<circle cx="21.9" cy="487.5" r="3.3" fill="#000030"/>
<path d="M19,503H27.8M36,503H44.7" stroke="#64ac45" stroke-width="1.7"/>
<path d="M31.8,499.7 L32.67,501.8 L34.94,501.98 L33.21,503.46 L33.74,505.67 L31.8,504.49 L29.86,505.67 L30.39,503.46 L28.66,501.98 L30.93,501.8Z" fill="#64ac45"/>
<g class="lg">
<text x="33.4" y="463.6">Landsat cloud-free NDVI</text>
<text x="33.6" y="477.3">Sentinel cloud-free NDVI</text>
<text x="33.6" y="490.9">Sentinel- Landsat Max-16day NDVI</text>
<text x="50" y="504.5">integrated NDVI time-series</text>
<text x="266" y="462.6">NDVI time series of windows pixels from the resample MODIS NDVI</text>
<text x="266" y="476.3" xml:space="preserve">MODIS  reference NDVI time series</text>
<text x="266" y="490.1">Sentinel-Landsat-MODIS NDVI time series</text>
<text x="266" y="503.7">Sentinel-Landsat-MODIS-Whittaker Smoother NDVI time series</text>
</g>
<path d="M234.5,459.5H259.6" stroke="#d4d4d4" stroke-width="1.8"/>
<path d="M234.5,474.1H259.6" stroke="#ffbf00" stroke-width="1.8"/>
<path d="M234.5,487.9H259.6" stroke="#ff1a1a" stroke-width="1.8"/>
<path d="M234.5,500.7H259.6" stroke="#000" stroke-width="1.8"/>
</svg>
</body></html>
